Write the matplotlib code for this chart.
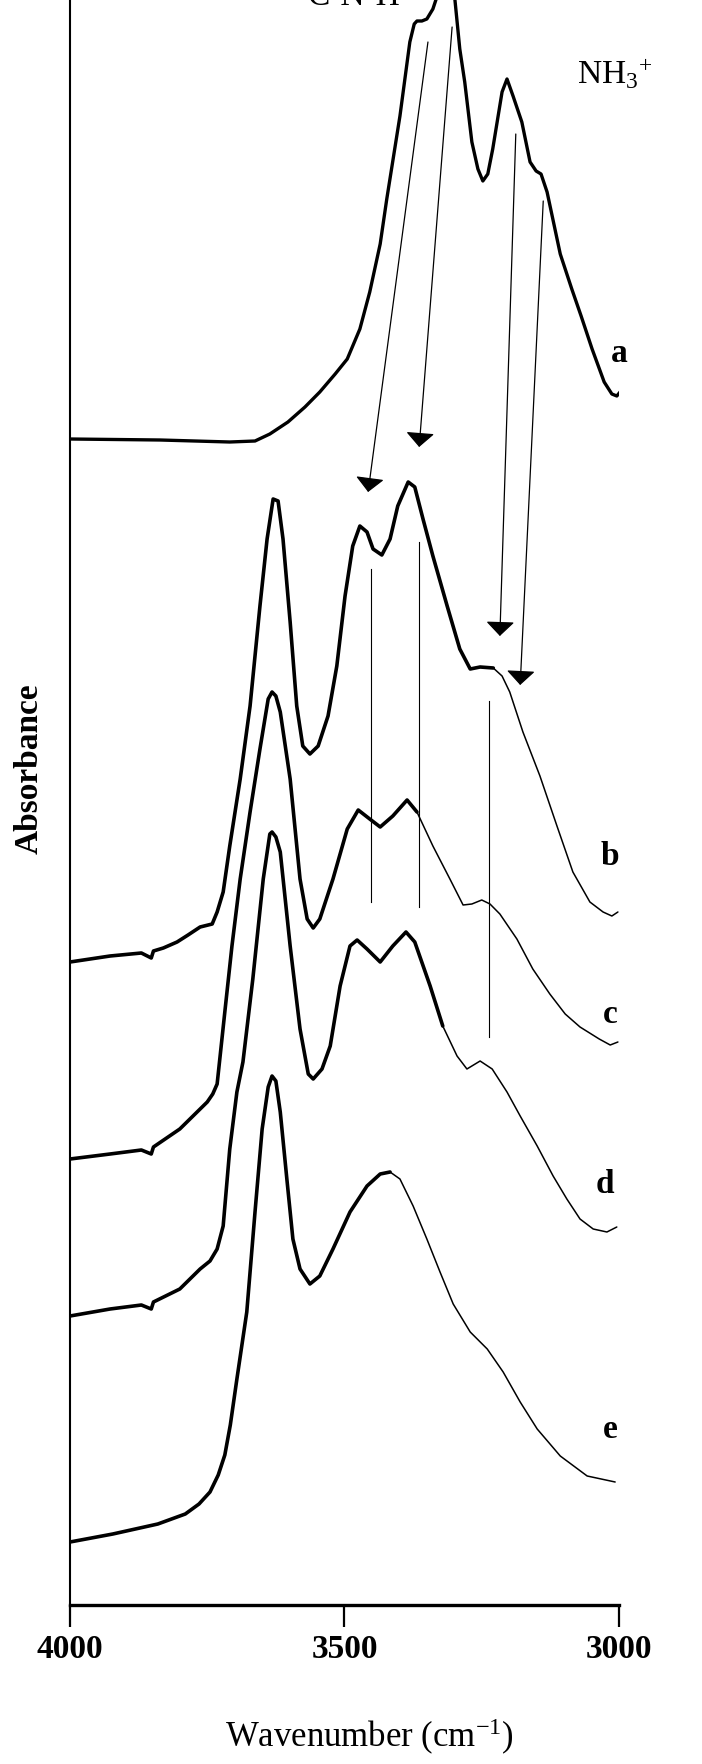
import matplotlib
matplotlib.use("Agg")
import matplotlib.pyplot as plt

plt.rcParams['font.family'] = ['Liberation Serif', 'DejaVu Serif']
plt.rcParams['mathtext.fontset'] = 'custom'
plt.rcParams['mathtext.rm'] = 'Liberation Serif'
plt.rcParams['mathtext.it'] = 'Liberation Serif:italic'
plt.rcParams['mathtext.bf'] = 'Liberation Serif:bold'

# ---------------- data (wavenumber, absorbance, arbitrary offset units) -------------
wn_a = [4000, 3836, 3709, 3663, 3636, 3603, 3572, 3545, 3517, 3495, 3472, 3454, 3435,
        3423, 3399, 3381, 3373, 3368, 3359, 3350, 3339, 3333, 3317, 3304, 3299, 3290,
        3281, 3268, 3257, 3248, 3239, 3230, 3213, 3204, 3193, 3177, 3162, 3151, 3142,
        3131, 3107, 3086, 3069, 3049, 3027, 3013, 3004, 2998]
ab_a = [1.166, 1.165, 1.163, 1.164, 1.171, 1.183, 1.198, 1.213, 1.231, 1.246, 1.276,
        1.313, 1.361, 1.406, 1.489, 1.563, 1.581, 1.584, 1.584, 1.586, 1.596, 1.606,
        1.646, 1.626, 1.606, 1.556, 1.523, 1.463, 1.436, 1.424, 1.431, 1.456, 1.513,
        1.526, 1.509, 1.483, 1.443, 1.434, 1.431, 1.413, 1.351, 1.316, 1.289, 1.256,
        1.223, 1.211, 1.209, 1.213]

wn_b = [4000, 3927, 3870, 3852, 3848, 3830, 3805, 3785, 3763, 3741, 3732, 3721, 3709,
        3690, 3672, 3654, 3641, 3630, 3621, 3612, 3599, 3587, 3576, 3563, 3548, 3530,
        3514, 3499, 3485, 3472, 3459, 3448, 3432, 3417, 3403, 3384, 3372, 3357, 3339,
        3313, 3290, 3271, 3253, 3229, 3213, 3199, 3175, 3144, 3113, 3084, 3053, 3029,
        3013, 3002]
ab_b = [0.643, 0.649, 0.652, 0.647, 0.654, 0.657, 0.663, 0.670, 0.678, 0.681, 0.693,
        0.713, 0.759, 0.826, 0.899, 0.999, 1.066, 1.106, 1.104, 1.066, 0.983, 0.899,
        0.859, 0.851, 0.859, 0.889, 0.939, 1.009, 1.059, 1.079, 1.073, 1.056, 1.050,
        1.066, 1.099, 1.123, 1.118, 1.086, 1.049, 0.999, 0.956, 0.936, 0.938, 0.937,
        0.929, 0.913, 0.873, 0.829, 0.779, 0.733, 0.703, 0.693, 0.689, 0.693]

wn_c = [4000, 3927, 3870, 3852, 3848, 3800, 3750, 3740, 3732, 3718, 3705, 3690, 3672,
        3654, 3639, 3632, 3625, 3617, 3599, 3581, 3568, 3557, 3545, 3521, 3495, 3475,
        3454, 3435, 3412, 3386, 3368, 3339, 3308, 3284, 3268, 3250, 3235, 3217, 3186,
        3157, 3126, 3098, 3071, 3036, 3016, 3002]
ab_c = [0.446, 0.451, 0.455, 0.451, 0.458, 0.476, 0.503, 0.511, 0.521, 0.593, 0.659,
        0.726, 0.793, 0.856, 0.906, 0.913, 0.909, 0.893, 0.826, 0.726, 0.686, 0.677,
        0.686, 0.726, 0.776, 0.795, 0.786, 0.778, 0.789, 0.805, 0.793, 0.759, 0.726,
        0.700, 0.701, 0.705, 0.701, 0.691, 0.666, 0.636, 0.611, 0.591, 0.578, 0.566,
        0.560, 0.563]

wn_d = [4000, 3927, 3870, 3852, 3848, 3800, 3763, 3745, 3732, 3721, 3709, 3696, 3685,
        3667, 3648, 3636, 3632, 3625, 3617, 3599, 3581, 3566, 3557, 3541, 3526, 3508,
        3490, 3477, 3459, 3435, 3412, 3388, 3372, 3344, 3321, 3295, 3277, 3253, 3231,
        3204, 3180, 3149, 3120, 3095, 3071, 3047, 3022, 3004]
ab_d = [0.289, 0.296, 0.300, 0.296, 0.303, 0.316, 0.336, 0.344, 0.356, 0.379, 0.456,
        0.513, 0.543, 0.626, 0.726, 0.771, 0.773, 0.768, 0.753, 0.659, 0.576, 0.531,
        0.526, 0.536, 0.559, 0.619, 0.659, 0.665, 0.656, 0.643, 0.659, 0.673, 0.663,
        0.619, 0.579, 0.549, 0.536, 0.544, 0.536, 0.513, 0.489, 0.459, 0.429, 0.406,
        0.386, 0.376, 0.373, 0.378]

wn_e = [4000, 3922, 3840, 3790, 3765, 3745, 3730, 3718, 3708, 3696, 3678, 3663, 3650,
        3639, 3632, 3625, 3617, 3605, 3594, 3581, 3563, 3545, 3521, 3490, 3459, 3435,
        3417, 3399, 3375, 3350, 3326, 3302, 3271, 3240, 3211, 3180, 3149, 3107, 3058,
        3007]
ab_e = [0.063, 0.071, 0.081, 0.091, 0.101, 0.113, 0.130, 0.150, 0.180, 0.226, 0.293,
        0.393, 0.476, 0.518, 0.529, 0.524, 0.493, 0.426, 0.366, 0.336, 0.321, 0.329,
        0.356, 0.393, 0.419, 0.431, 0.433, 0.426, 0.399, 0.366, 0.333, 0.301, 0.273,
        0.256, 0.233, 0.203, 0.176, 0.149, 0.129, 0.123]

curve_labels = ['a', 'b', 'c', 'd', 'e']
label_wn = [3000, 3016, 3016, 3025, 3016]
label_ab = [1.244, 0.741, 0.583, 0.413, 0.168]

# arrows: (tail wavenumber, tail absorbance, head wavenumber, head absorbance)
arrow_tail_wn = [3348, 3304, 3188, 3138]
arrow_tail_ab = [1.563, 1.578, 1.471, 1.404]
arrow_head_wn = [3457, 3364, 3217, 3180]
arrow_head_ab = [1.113, 1.158, 0.969, 0.920]

# vertical marker lines
vline_wn = [3452, 3365, 3237]
vline_top = [1.036, 1.063, 0.904]
vline_bottom = [0.703, 0.698, 0.568]

xticks = [4000, 3500, 3000]

# ---------------- figure ----------------
W, H = 702, 1765
fig = plt.figure(figsize=(W / 100, H / 100), dpi=100)
ax = fig.add_axes([70 / W, (H - 1606) / H, 549 / W, 1606 / H])
ax.set_xlim(4000, 3000)
ax.set_ylim(0, 1.606)

THICK, THIN = 2.6, 1.1


def split_plot(wn, ab, split):
    thick_w = [w for w in wn if w >= split]
    n = len(thick_w)
    ax.plot(wn[:n + 1], ab[:n + 1], color='black', lw=THICK,
            solid_joinstyle='round', solid_capstyle='round')
    ax.plot(wn[n:], ab[n:], color='black', lw=THIN,
            solid_joinstyle='round', solid_capstyle='round')


ax.plot(wn_a, ab_a, color='black', lw=2.4, solid_joinstyle='round')
split_plot(wn_b, ab_b, 3230)
split_plot(wn_c, ab_c, 3370)
split_plot(wn_d, ab_d, 3330)
split_plot(wn_e, ab_e, 3430)

for x, t, b in zip(vline_wn, vline_top, vline_bottom):
    ax.plot([x, x], [b, t], color='black', lw=0.8)

for tw, ta, hw, ha in zip(arrow_tail_wn, arrow_tail_ab, arrow_head_wn, arrow_head_ab):
    ax.annotate('', xy=(hw, ha), xytext=(tw, ta),
                arrowprops=dict(arrowstyle='-|>,head_length=0.45,head_width=0.45',
                                mutation_scale=20, color='black', lw=0.9,
                                shrinkA=0, shrinkB=0))

for lab, x, y in zip(curve_labels, label_wn, label_ab):
    ax.text(x, y, lab, fontsize=24, fontweight='bold', ha='center', va='baseline')

ax.text(3076, 1.523, r'NH$_3$$^{+}$', fontsize=24, ha='left', va='baseline')
ax.text(3568, 1.601, 'C-N-H', fontsize=24, ha='left', va='baseline', clip_on=False)

# axes styling
ax.spines['top'].set_visible(False)
ax.spines['right'].set_visible(False)
ax.spines['left'].set_linewidth(1.5)
ax.spines['bottom'].set_linewidth(2.4)
ax.set_yticks([])
ax.set_xticks(xticks)
ax.set_xticklabels([str(t) for t in xticks], fontsize=24, fontweight='bold')
ax.tick_params(axis='x', direction='out', length=16, width=1.6, pad=4)

fig.text(369 / W, 1 - 1747 / H, r'Wavenumber (cm$^{-1}$)', fontsize=25,
         ha='center', va='baseline')
fig.text(29 / W, 1 - 769 / H, 'Absorbance', fontsize=24, fontweight='bold',
         rotation=90, ha='center', va='center')

fig.savefig('out.png', dpi=100)
